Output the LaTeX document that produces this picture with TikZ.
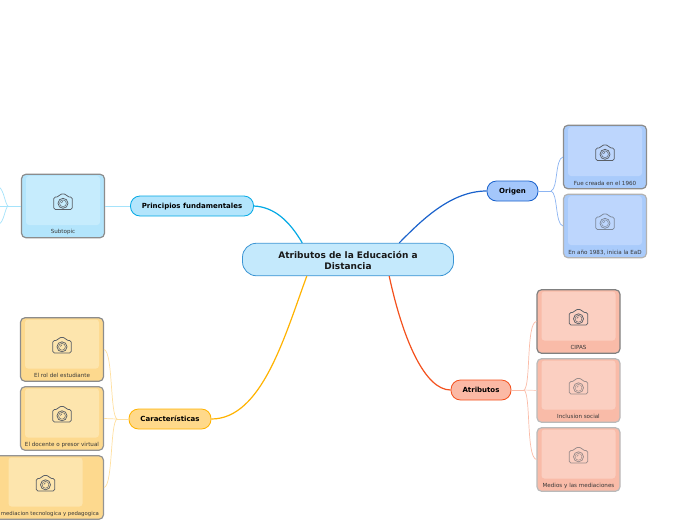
\documentclass[tikz,border=0pt]{standalone}
\usepackage{fontspec}
\setmainfont{DejaVu Sans}
\definecolor{bluedk}{HTML}{1A62CC}
\definecolor{bluefl}{HTML}{A4C7FB}
\definecolor{blueln}{HTML}{8DB5F2}
\definecolor{bluecd}{HTML}{A9CBFB}
\definecolor{bluein}{HTML}{BDD6FD}
\definecolor{reddk}{HTML}{F4511E}
\definecolor{redfl}{HTML}{FBB9A5}
\definecolor{redln}{HTML}{FBBCA8}
\definecolor{redcd}{HTML}{F9BBA8}
\definecolor{redin}{HTML}{FBCFC1}
\definecolor{yeldk}{HTML}{FFB300}
\definecolor{yelfl}{HTML}{FFD98A}
\definecolor{yelln}{HTML}{FFE0A0}
\definecolor{yelcd}{HTML}{FDD98E}
\definecolor{yelin}{HTML}{FDE5AD}
\definecolor{cyadk}{HTML}{03A9E5}
\definecolor{cyafl}{HTML}{B3E5FC}
\definecolor{cyaln}{HTML}{A5E3FB}
\definecolor{cyain}{HTML}{C6ECFD}
\definecolor{rootfl}{HTML}{C4E9FC}
\definecolor{rootdk}{HTML}{3A94D4}
\definecolor{camcol}{HTML}{5A5F66}
\tikzset{
  x=1pt,y=-1pt,
  rootbox/.style={draw=rootdk,fill=rootfl,line width=0.8pt,rounded corners=14pt,minimum width=211pt,minimum height=32.5pt,inner sep=0pt,align=center,font=\bfseries\fontsize{9}{11.2}\selectfont,text=black!90},
  topicbox/.style={rounded corners=9.5pt,minimum height=20pt,inner sep=0pt,line width=0.8pt,text height=5pt,text depth=0pt,font=\bfseries\fontsize{7}{8}\selectfont,text=black},
  cardbox/.style={rounded corners=4.5pt,minimum height=63.5pt,inner sep=0pt,line width=1.2pt},
  innerbox/.style={rounded corners=3pt,minimum width=74pt,minimum height=49pt,inner sep=0pt},
  cardtext/.style={font=\fontsize{5.6}{6}\selectfont,inner sep=0pt,text=black!78},
  cclab/.style={font=\fontsize{5.35}{6}\selectfont,xshift=4.5pt},
  mainlink/.style={line width=1.2pt},
  sublink/.style={line width=0.7pt},
}
% name, cx, cy, width, card fill, inner fill, border, label, icon opacity
\newcommand\cardthing[9]{%
  \node[cardbox,draw=#7,fill=#5,minimum width=#4 pt] (#1) at (#2,#3) {};
  \node[innerbox,fill=#6] (#1in) at (#2,#3-5.5) {};
  \begin{scope}[shift={(#2,#3-4)},opacity=#9,color=camcol,line width=0.75pt,line join=round]
    \draw[rounded corners=1.6pt] (-9.3,-5) -- (-4.5,-5) -- (-3,-8) -- (3,-8) -- (4.5,-5) -- (9.3,-5) -- (9.3,7.5) -- (-9.3,7.5) -- cycle;
    \draw (0,1.3) circle (5pt);
    \draw[line width=0.45pt] (0,1.3) circle (3.4pt);
    \draw[line width=0.5pt] (-1.6,0.9) arc (180:90:1.6pt);
  \end{scope}
  \node[cardtext,#1lab/.try] (#1lab) at (#2,#3+26.2) {#8};
}
\begin{document}
\begin{tikzpicture}
\useasboundingbox (0,0) rectangle (697,520);
\fill[white] (0,0) rectangle (697,520);

\node[rootbox] (root) at (348,259.5) {\rule{0pt}{8.6pt}Atributos de la Educación a\\Distancia};

\node[topicbox,draw=bluedk,fill=bluefl,minimum width=51pt] (origen) at (512.5,191) {Origen};
\node[topicbox,draw=reddk,fill=redfl,minimum width=60pt] (atrib) at (481,390) {Atributos};
\node[topicbox,draw=yeldk,fill=yelfl,minimum width=82pt] (carac) at (170,419) {Características};
\node[topicbox,draw=cyadk,fill=cyafl,minimum width=123pt] (princ) at (192,206) {Principios fundamentales};

% main connectors
\draw[mainlink,bluedk] (origen.west) .. controls (450,191) and (420,222) .. (root.18);
\draw[mainlink,reddk] (atrib.west) .. controls (425,390) and (403,340) .. (root.338);
\draw[mainlink,yeldk] (carac.east) .. controls (262,419) and (285,335) .. (root.202);
\draw[mainlink,cyadk] (princ.east) .. controls (275,207) and (290,222) .. (root.160);

% cards
\cardthing{oa}{605}{157}{83}{bluecd}{bluein}{black!45}{Fue creada en el 1960}{1}
\cardthing{ob}{605}{226}{83}{bluecd}{bluein}{black!30}{En año 1983, inicia la EaD}{0.65}
\cardthing{aa}{578.5}{321.5}{83}{redcd}{redin}{black!50}{CIPAS}{1}
\cardthing{ab}{578.5}{390.5}{83}{redcd}{redin}{black!27}{Inclusion social}{0.6}
\cardthing{ac}{578.5}{459.5}{83}{redcd}{redin}{black!27}{Medios y las mediaciones}{0.6}
\cardthing{ca}{62}{349.5}{83}{yelcd}{yelin}{black!45}{El rol del estudiante}{1}
\cardthing{cb}{62}{418.5}{83}{yelcd}{yelin}{black!42}{El docente o presor virtual}{1}
\cardthing{cc}{45.5}{487.5}{116}{yelcd}{yelin}{black!42}{mediacion tecnologica y pedagogica}{1}
\cardthing{pa}{63}{206}{83}{cyafl}{cyain}{black!45}{Subtopic}{1}

% junctions
\coordinate (jo) at (551,191);
\coordinate (ja) at (524,390);
\coordinate (jc) at (117,419);
\coordinate (jp) at (8,206);
\coordinate (l1) at (-1,187);
\coordinate (l2) at (-1,206);
\coordinate (l3) at (-1,224);

\begin{scope}[sublink]
\draw[blueln] (origen.east) -- (jo);
\draw[blueln] (jo) .. controls (558,189) and (555,159) .. (oa.west);
\draw[blueln] (jo) .. controls (558,193) and (555,224) .. (ob.west);
\draw[redln] (atrib.east) -- (ja);
\draw[redln] (ja) .. controls (531,386) and (526,323) .. (aa.west);
\draw[redln!70] (ja) -- (ab.west);
\draw[redln] (ja) .. controls (531,394) and (526,457) .. (ac.west);
\draw[yelln] (carac.west) -- (jc);
\draw[yelln] (jc) .. controls (110,415) and (113,352) .. (ca.east);
\draw[yelln] (jc) -- (cb.east);
\draw[yelln] (jc) .. controls (110,423) and (113,485) .. (cc.east);
\draw[cyaln] (princ.west) -- (pa.east);
\draw[cyaln] (pa.west) -- (jp);
\draw[cyaln] (jp) .. controls (5,204) and (4,190) .. (l1);
\draw[cyaln] (jp) -- (l2);
\draw[cyaln] (jp) .. controls (5,208) and (4,222) .. (l3);
\end{scope}
\end{tikzpicture}
\end{document}
